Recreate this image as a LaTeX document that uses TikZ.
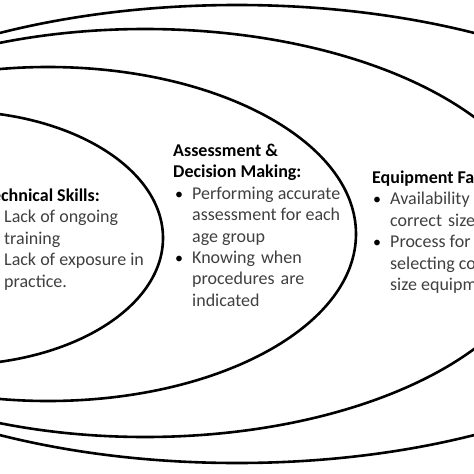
\documentclass[tikz,border=0pt]{standalone}
\usepackage{fontspec}
\setmainfont{Carlito}
\definecolor{bodygray}{HTML}{404040}
\begin{document}
\begin{tikzpicture}[x=1pt,y=-1pt,
  ring/.style={draw=black,line width=2.6pt},
  head/.style={anchor=base west,inner sep=0pt,font=\fontsize{18}{21.4}\selectfont\bfseries,text=black},
  body/.style={anchor=base west,inner sep=0pt,font=\fontsize{18}{21.4}\selectfont,text=bodygray},
  dot/.style={anchor=base west,inner sep=0pt,font=\fontsize{16}{21.4}\selectfont,text=black}]
\useasboundingbox (0,0) rectangle (474,474);
\fill[white] (0,0) rectangle (474,474);
\clip (0,0) rectangle (474,474);
% nested ellipses sharing the left edge
\draw[ring] (-47,238) ellipse [x radius=210pt, y radius=127pt];
\draw[ring] (48,234) ellipse [x radius=308pt, y radius=167pt];
\draw[ring] (145,233) ellipse [x radius=400pt, y radius=204pt];
\draw[ring] (237,234) ellipse [x radius=495pt, y radius=229pt];
% Technical skills
\node[head,anchor=base east] (t0) at (100,201) {Technical Skills:};
\node[body] (t1) at (4,222.5) {Lack of ongoing};
\node[body] (t2) at (4,244) {training};
\node[body] (t3) at (4,265.5) {Lack of exposure in};
\node[body] (t4) at (4,287) {practice.};
% Assessment & decision making
\node[head] (a0) at (173,156.5) {Assessment \&};
\node[head] (a1) at (173,177.9) {Decision Making:};
\node[dot] (ab1) at (175,199.3) {•};
\node[body] (a2) at (192,199.3) {\makebox[148pt][s]{Performing accurate}};
\node[body] (a3) at (192,220.7) {\makebox[148pt][s]{assessment for each}};
\node[body] (a4) at (192,242.1) {age group};
\node[dot] (ab2) at (175,263.5) {•};
\node[body] (a5) at (192,263.5) {Knowing\hspace{2pt} when};
\node[body] (a6) at (192,284.9) {procedures\hspace{2pt} are};
\node[body] (a7) at (192,306.3) {indicated};
% Equipment
\node[head] (e0) at (372,183) {Equipment Fa};
\node[dot] (eb1) at (373,204.5) {•};
\node[body] (e1) at (390,204.5) {Availability};
\node[body] (e2) at (390,226) {correct\hspace{2pt} size};
\node[dot] (eb2) at (373,247.5) {•};
\node[body] (e3) at (390,247.5) {Process for};
\node[body] (e4) at (390,269) {selecting co};
\node[body] (e5) at (390,290.5) {size equipm};
\end{tikzpicture}
\end{document}
